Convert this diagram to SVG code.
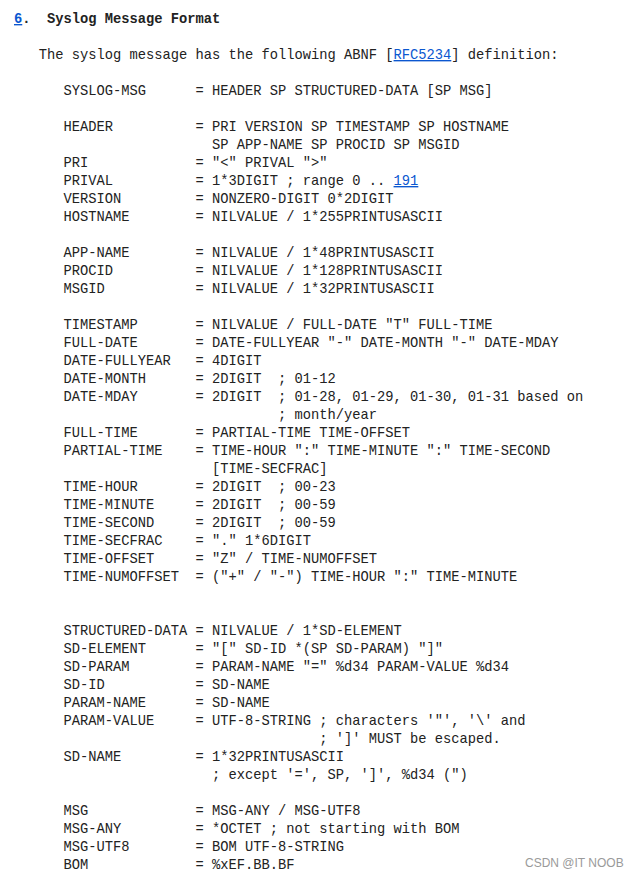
<svg xmlns="http://www.w3.org/2000/svg" width="637" height="877" viewBox="0 0 637 877" xml:space="preserve">
<style>
text{font-family:"Liberation Mono","DejaVu Sans Mono",monospace;font-size:13.75px;fill:#222;white-space:pre}
.lk{fill:#0b57d0;text-decoration:underline}
.b{font-weight:bold}
.wm{font-family:"Liberation Sans",Arial,sans-serif;font-size:12px;fill:#9a9a9a}
</style>
<rect width="637" height="877" fill="#fff"/>
<g id="content">
<text x="14" y="23" class="b"><tspan class="lk">6</tspan>.  Syslog Message Format</text>
<text x="14" y="59">   The syslog message has the following ABNF [<tspan class="lk">RFC5234</tspan>] definition:</text>
<text x="14" y="95">      SYSLOG-MSG      = HEADER SP STRUCTURED-DATA [SP MSG]</text>
<text x="14" y="131">      HEADER          = PRI VERSION SP TIMESTAMP SP HOSTNAME</text>
<text x="14" y="149">                        SP APP-NAME SP PROCID SP MSGID</text>
<text x="14" y="167">      PRI             = "&lt;" PRIVAL "&gt;"</text>
<text x="14" y="185">      PRIVAL          = 1*3DIGIT ; range 0 .. <tspan class="lk">191</tspan></text>
<text x="14" y="203">      VERSION         = NONZERO-DIGIT 0*2DIGIT</text>
<text x="14" y="221">      HOSTNAME        = NILVALUE / 1*255PRINTUSASCII</text>
<text x="14" y="257">      APP-NAME        = NILVALUE / 1*48PRINTUSASCII</text>
<text x="14" y="275">      PROCID          = NILVALUE / 1*128PRINTUSASCII</text>
<text x="14" y="293">      MSGID           = NILVALUE / 1*32PRINTUSASCII</text>
<text x="14" y="329">      TIMESTAMP       = NILVALUE / FULL-DATE "T" FULL-TIME</text>
<text x="14" y="347">      FULL-DATE       = DATE-FULLYEAR "-" DATE-MONTH "-" DATE-MDAY</text>
<text x="14" y="365">      DATE-FULLYEAR   = 4DIGIT</text>
<text x="14" y="383">      DATE-MONTH      = 2DIGIT  ; 01-12</text>
<text x="14" y="401">      DATE-MDAY       = 2DIGIT  ; 01-28, 01-29, 01-30, 01-31 based on</text>
<text x="14" y="419">                                ; month/year</text>
<text x="14" y="437">      FULL-TIME       = PARTIAL-TIME TIME-OFFSET</text>
<text x="14" y="455">      PARTIAL-TIME    = TIME-HOUR ":" TIME-MINUTE ":" TIME-SECOND</text>
<text x="14" y="473">                        [TIME-SECFRAC]</text>
<text x="14" y="491">      TIME-HOUR       = 2DIGIT  ; 00-23</text>
<text x="14" y="509">      TIME-MINUTE     = 2DIGIT  ; 00-59</text>
<text x="14" y="527">      TIME-SECOND     = 2DIGIT  ; 00-59</text>
<text x="14" y="545">      TIME-SECFRAC    = "." 1*6DIGIT</text>
<text x="14" y="563">      TIME-OFFSET     = "Z" / TIME-NUMOFFSET</text>
<text x="14" y="581">      TIME-NUMOFFSET  = ("+" / "-") TIME-HOUR ":" TIME-MINUTE</text>
<text x="14" y="635">      STRUCTURED-DATA = NILVALUE / 1*SD-ELEMENT</text>
<text x="14" y="653">      SD-ELEMENT      = "[" SD-ID *(SP SD-PARAM) "]"</text>
<text x="14" y="671">      SD-PARAM        = PARAM-NAME "=" %d34 PARAM-VALUE %d34</text>
<text x="14" y="689">      SD-ID           = SD-NAME</text>
<text x="14" y="707">      PARAM-NAME      = SD-NAME</text>
<text x="14" y="725">      PARAM-VALUE     = UTF-8-STRING ; characters '"', '\' and</text>
<text x="14" y="743">                                     ; ']' MUST be escaped.</text>
<text x="14" y="761">      SD-NAME         = 1*32PRINTUSASCII</text>
<text x="14" y="779">                        ; except '=', SP, ']', %d34 (")</text>
<text x="14" y="815">      MSG             = MSG-ANY / MSG-UTF8</text>
<text x="14" y="833">      MSG-ANY         = *OCTET ; not starting with BOM</text>
<text x="14" y="851">      MSG-UTF8        = BOM UTF-8-STRING</text>
<text x="14" y="869">      BOM             = %xEF.BB.BF</text>
</g>
<text class="wm" x="525" y="867">CSDN @IT NOOB</text>
</svg>
